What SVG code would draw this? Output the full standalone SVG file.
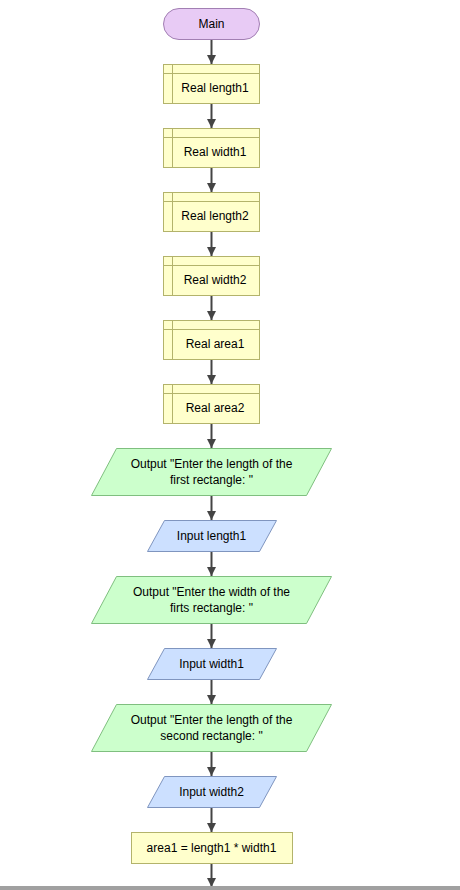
<svg xmlns="http://www.w3.org/2000/svg" width="460" height="890" viewBox="0 0 460 890">
<style>
text{font-family:"Liberation Sans",Arial,sans-serif;font-size:12px;fill:#000;text-anchor:middle}
.term{fill:#e8cbf5;stroke:#a27fb3;stroke-width:1}
.decl{fill:#ffffcc;stroke:#b3b36b;stroke-width:1}
.dl{stroke:#b3b36b;stroke-width:1;fill:none}
.out{fill:#ccffcc;stroke:#7fbf7f;stroke-width:1}
.inp{fill:#cce0ff;stroke:#7f95bf;stroke-width:1}
.proc{fill:#ffffcc;stroke:#b3b36b;stroke-width:1}
.c{stroke:#444;stroke-width:2;fill:none;marker-end:url(#ah)}
</style>
<defs>
<marker id="ah" markerUnits="userSpaceOnUse" markerWidth="10" markerHeight="10" refX="9" refY="5" orient="auto">
<path d="M0,0.5 L9,5 L0,9.5 z" fill="#444"/>
</marker>
</defs>
<rect width="460" height="890" fill="#ffffff"/>
<g id="connectors">
<line class="c" x1="211.5" y1="40" x2="211.5" y2="64"/>
<line class="c" x1="211.5" y1="104" x2="211.5" y2="128"/>
<line class="c" x1="211.5" y1="168" x2="211.5" y2="192"/>
<line class="c" x1="211.5" y1="232" x2="211.5" y2="256"/>
<line class="c" x1="211.5" y1="296" x2="211.5" y2="320"/>
<line class="c" x1="211.5" y1="360" x2="211.5" y2="384"/>
<line class="c" x1="211.5" y1="424" x2="211.5" y2="448"/>
<line class="c" x1="211.5" y1="496" x2="211.5" y2="520"/>
<line class="c" x1="211.5" y1="552" x2="211.5" y2="576"/>
<line class="c" x1="211.5" y1="624" x2="211.5" y2="648"/>
<line class="c" x1="211.5" y1="680" x2="211.5" y2="704"/>
<line class="c" x1="211.5" y1="752" x2="211.5" y2="776"/>
<line class="c" x1="211.5" y1="808" x2="211.5" y2="832"/>
<line class="c" x1="211.5" y1="864" x2="211.5" y2="887"/>
</g>
<g id="main">
<rect class="term" x="163.5" y="8.5" width="96" height="31" rx="15.5"/>
<text x="211.5" y="28">Main</text>
</g>
<g id="decl1">
<rect class="decl" x="163.5" y="64.5" width="96" height="39"/>
<path class="dl" d="M172.5,64.5 V103.5 M163.5,73.5 H259.5"/>
<text x="215" y="92">Real length1</text>
</g>
<g id="decl2">
<rect class="decl" x="163.5" y="128.5" width="96" height="39"/>
<path class="dl" d="M172.5,128.5 V167.5 M163.5,137.5 H259.5"/>
<text x="215" y="156">Real width1</text>
</g>
<g id="decl3">
<rect class="decl" x="163.5" y="192.5" width="96" height="39"/>
<path class="dl" d="M172.5,192.5 V231.5 M163.5,201.5 H259.5"/>
<text x="215" y="220">Real length2</text>
</g>
<g id="decl4">
<rect class="decl" x="163.5" y="256.5" width="96" height="39"/>
<path class="dl" d="M172.5,256.5 V295.5 M163.5,265.5 H259.5"/>
<text x="215" y="284">Real width2</text>
</g>
<g id="decl5">
<rect class="decl" x="163.5" y="320.5" width="96" height="39"/>
<path class="dl" d="M172.5,320.5 V359.5 M163.5,329.5 H259.5"/>
<text x="215" y="348">Real area1</text>
</g>
<g id="decl6">
<rect class="decl" x="163.5" y="384.5" width="96" height="39"/>
<path class="dl" d="M172.5,384.5 V423.5 M163.5,393.5 H259.5"/>
<text x="215" y="412">Real area2</text>
</g>
<g id="out1">
<polygon class="out" points="116.5,448.5 331.5,448.5 306.5,495.5 91.5,495.5"/>
<text x="211.5" y="468">Output "Enter the length of the</text>
<text x="211.5" y="484">first rectangle: "</text>
</g>
<g id="in1">
<polygon class="inp" points="164.5,520.5 276.5,520.5 259.5,551.5 147.5,551.5"/>
<text x="211.5" y="540">Input length1</text>
</g>
<g id="out2">
<polygon class="out" points="116.5,576.5 331.5,576.5 306.5,623.5 91.5,623.5"/>
<text x="211.5" y="596">Output "Enter the width of the</text>
<text x="211.5" y="612">firts rectangle: "</text>
</g>
<g id="in2">
<polygon class="inp" points="164.5,648.5 276.5,648.5 259.5,679.5 147.5,679.5"/>
<text x="211.5" y="668">Input width1</text>
</g>
<g id="out3">
<polygon class="out" points="116.5,704.5 331.5,704.5 306.5,751.5 91.5,751.5"/>
<text x="211.5" y="724">Output "Enter the length of the</text>
<text x="211.5" y="740">second rectangle: "</text>
</g>
<g id="in3">
<polygon class="inp" points="164.5,776.5 276.5,776.5 259.5,807.5 147.5,807.5"/>
<text x="211.5" y="796">Input width2</text>
</g>
<g id="proc1">
<rect class="proc" x="131.5" y="832.5" width="161" height="31"/>
<text x="211.5" y="852">area1 = length1 * width1</text>
</g>
<rect x="0" y="886" width="460" height="4" fill="#a0a0a0"/>
</svg>
